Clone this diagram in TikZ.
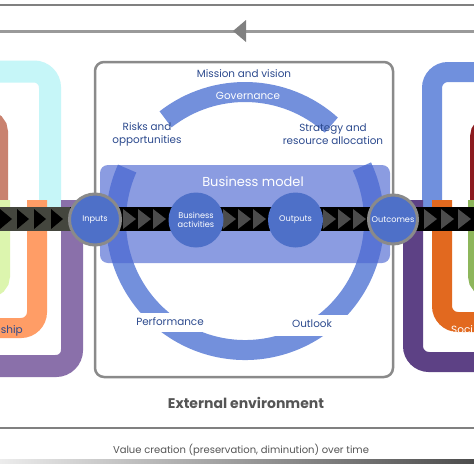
\documentclass[tikz,border=0pt]{standalone}
\usepackage{fontspec}
\setmainfont{Poppins}
\definecolor{cyanC}{HTML}{C6F6F8}
\definecolor{salmonC}{HTML}{C9826F}
\definecolor{lgreenC}{HTML}{DCF5AE}
\definecolor{orangeL}{HTML}{FF9D66}
\definecolor{purpleL}{HTML}{8A70AA}
\definecolor{blueR}{HTML}{7090DD}
\definecolor{redR}{HTML}{8C1B1F}
\definecolor{purpleR}{HTML}{5D4185}
\definecolor{orangeR}{HTML}{E2691F}
\definecolor{greenR}{HTML}{8DB65B}
\definecolor{ringC}{HTML}{7390DC}
\definecolor{bandC}{HTML}{4D68D2}
\definecolor{circC}{HTML}{4E70C8}
\definecolor{labelC}{HTML}{2C4A8E}
\definecolor{grayT}{HTML}{555555}
\definecolor{boxgray}{HTML}{8A8A8A}
\definecolor{linegray}{HTML}{808080}
\definecolor{linegrayL}{HTML}{9A9A9A}
\definecolor{chevgray}{HTML}{4C4C4C}
\definecolor{chevleft}{HTML}{44463E}
\begin{document}
\begin{tikzpicture}[x=1pt,y=-1pt,
  lbl/.style={text=labelC, font=\fontsize{10.4}{13}\selectfont, align=center, inner sep=0pt},
  capline/.style={line width=20pt, rounded corners=16pt, line cap=butt},
  circ/.style={circle, fill=circC, minimum size=55pt, inner sep=0pt, text=white,
    font=\fontsize{8.2}{9}\selectfont, align=center},
  bcirc/.style={circ, draw=boxgray, line width=3pt, minimum size=51pt},
  chev/.style={fill=chevgray}]
\useasboundingbox (0,0) rectangle (474,474);
\fill[white] (0,0) rectangle (474,474);
% top lines
\draw[linegray, line width=2pt] (0,5) -- (474,5);
\draw[linegrayL, line width=3pt] (0,31) -- (474,31);
\fill[linegray] (233,31) -- (246,20) -- (246,42) -- cycle;
% left capitals
\draw[capline, cyanC, line width=22pt] (-40,71.5) -- (50,71.5) -- (50,215);
\draw[capline, salmonC, rounded corners=12pt] (-40,120) -- (-2,120) -- (-2,215);
\draw[capline, lgreenC, rounded corners=12pt] (0,200) -- (0,288) -- (-40,288);
\draw[capline, orangeL] (37,200) -- (37,328) -- (-40,328);
\draw[capline, purpleL, line width=22pt] (72,200) -- (72,366) -- (-40,366);
\node[anchor=east, text=labelC, font=\fontsize{10.5}{12}\selectfont, inner sep=0pt] (ship) at (23,331) {ship};
% right capitals
\draw[capline, blueR] (432,215) -- (432,72) -- (520,72);
\draw[capline, redR, rounded corners=12pt] (480,215) -- (480,125) -- (520,125);
\draw[capline, purpleR] (413,200) -- (413,362) -- (520,362);
\draw[capline, orangeR] (442,200) -- (442,322) -- (520,322);
\draw[capline, greenR, rounded corners=12pt] (478,200) -- (478,288) -- (520,288);
\node[anchor=west, text=white, font=\fontsize{10.5}{12}\selectfont, inner sep=0pt] (soci) at (451,330) {Soci};
% central box
\draw[draw=boxgray, fill=white, line width=2.5pt, rounded corners=9pt] (95,62) rectangle (393,377);
% ring
\draw[ringC, line width=20pt] (245,221) ++(-128:129) arc[start angle=-128, end angle=-48, radius=129];
\draw[ringC, line width=20pt] (245,221) ++(-25:129) arc[start angle=-25, end angle=204, radius=129];
\fill[white] (125,313) rectangle (235,332);
\fill[white] (258,315) rectangle (376,336);
% business model band
\fill[bandC, opacity=0.65, rounded corners=8pt] (100,165) rectangle (390,263);
% value chain band
\fill[black] (0,207) rectangle (474,231);
\fill[chevleft] (0,207) rectangle (70,231);
\foreach \x in {0,17,34,51} \fill[black] (\x,209) -- (\x+12,219) -- (\x,229) -- cycle;
\foreach \x in {123,138,153,223,238,253,323,338,353,424,441,458}
  \fill[chev] (\x,209) -- (\x+13,219) -- (\x,229) -- cycle;
% circles
\node[bcirc] (inputs) at (95,219.5) {Inputs};
\node[circ] (activities) at (196,220) {Business\\activities};
\node[circ] (outputs) at (295.5,220) {Outputs};
\node[bcirc, minimum size=49pt] (outcomes) at (393,219.5) {Outcomes};
% labels
\node[lbl] (mission) at (244,74) {Mission and vision};
\node[lbl, text=white] (gov) at (248,96) {Governance};
\node[lbl] (risks) at (147,134) {Risks and\\opportunities};
\node[lbl] (strategy) at (333,134) {Strategy and\\resource allocation};
\node[text=white, font=\fontsize{13}{15}\selectfont, inner sep=0pt] (bm) at (253,182) {Business model};
\node[lbl] (perf) at (170,322) {Performance};
\node[lbl] (outlook) at (312,324) {Outlook};
\node[text=grayT, font=\fontsize{14}{16}\selectfont\bfseries, inner sep=0pt] (ext) at (246,403) {External environment};
% bottom lines
\draw[linegray, line width=2pt] (0,428) -- (474,428);
\node[text=grayT, font=\fontsize{10}{12}\selectfont, inner sep=0pt] (value) at (241,450) {Value creation (preservation, diminution) over time};
\shade[left color=gray!15, right color=gray!60!black] (0,459) rectangle (474,463);
\end{tikzpicture}
\end{document}
